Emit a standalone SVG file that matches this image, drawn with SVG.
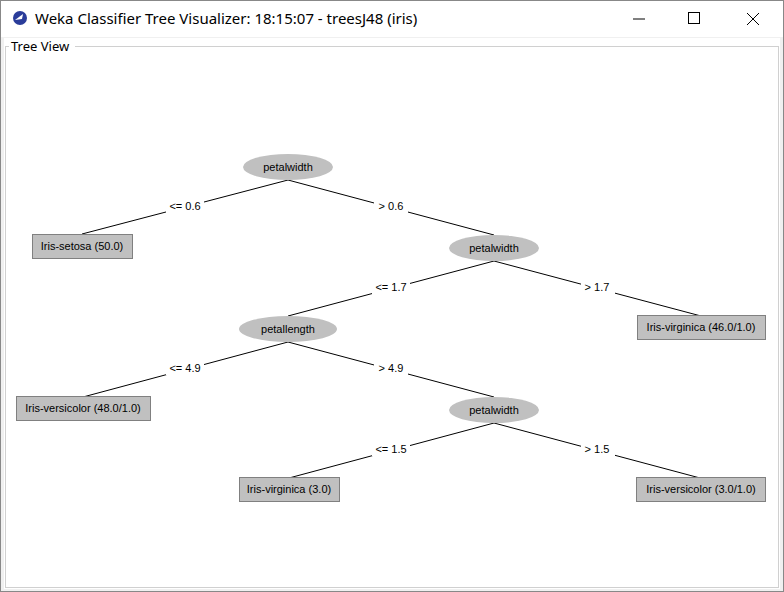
<svg xmlns="http://www.w3.org/2000/svg" width="784" height="592" viewBox="0 0 784 592">
<style>
text{font-family:"Liberation Sans",Arial,sans-serif;font-size:11px;fill:#000}
.e{fill:#c0c0c0}
.b{fill:#c0c0c0;stroke:#808080}
.l{stroke:#000;stroke-width:1;fill:none}
.lb{fill:#fff}
</style>
<rect width="784" height="592" fill="#f0f0f0"/>
<rect x="0" y="0" width="784" height="37" fill="#fff"/>
<rect x="0.5" y="0.5" width="783" height="591" fill="none" stroke="#888"/>
<circle cx="20" cy="18" r="7" fill="#2a3c9a"/>
<path d="M15 20 L23 14 L22 19 Z" fill="#fff"/>
<text x="35" y="24" style="font-family:'Noto Sans','Liberation Sans',sans-serif;font-size:15px">Weka Classifier Tree Visualizer: 18:15:07 - treesJ48 (iris)</text>
<line x1="633" y1="19" x2="645" y2="19" stroke="#000"/>
<rect x="688.5" y="12.5" width="11" height="11" fill="none" stroke="#000"/>
<path d="M747 13 L759 25 M759 13 L747 25" stroke="#000"/>
<rect x="4" y="38" width="776" height="551" fill="#fff"/>
<rect x="5.5" y="46.5" width="773" height="541" fill="none" stroke="#d0d0d0"/>
<rect x="9" y="39" width="66" height="14" fill="#fff"/>
<text x="11" y="51" style="font-size:13px;font-family:'Noto Sans','Liberation Sans',sans-serif">Tree View</text>
<g id="connectors">
<line class="l" x1="288" y1="180" x2="82" y2="234"/>
<line class="l" x1="288" y1="180" x2="494" y2="235"/>
<line class="l" x1="494" y1="261" x2="288" y2="316"/>
<line class="l" x1="494" y1="261" x2="701" y2="316"/>
<line class="l" x1="288" y1="342" x2="83" y2="397"/>
<line class="l" x1="288" y1="342" x2="494" y2="397"/>
<line class="l" x1="494" y1="423" x2="289" y2="478"/>
<line class="l" x1="494" y1="423" x2="700" y2="478"/>
<rect class="lb" x="166" y="199" width="38" height="14"/><text x="185" y="210" text-anchor="middle">&lt;= 0.6</text>
<rect class="lb" x="374" y="199" width="34" height="14"/><text x="391" y="210" text-anchor="middle">&gt; 0.6</text>
<rect class="lb" x="372" y="280" width="38" height="14"/><text x="391" y="291" text-anchor="middle">&lt;= 1.7</text>
<rect class="lb" x="581" y="280" width="34" height="14"/><text x="597" y="291" text-anchor="middle">&gt; 1.7</text>
<rect class="lb" x="166" y="361" width="38" height="14"/><text x="185" y="372" text-anchor="middle">&lt;= 4.9</text>
<rect class="lb" x="374" y="361" width="34" height="14"/><text x="391" y="372" text-anchor="middle">&gt; 4.9</text>
<rect class="lb" x="372" y="442" width="38" height="14"/><text x="391" y="453" text-anchor="middle">&lt;= 1.5</text>
<rect class="lb" x="581" y="442" width="34" height="14"/><text x="597" y="453" text-anchor="middle">&gt; 1.5</text>
</g>
<g id="n1"><ellipse class="e" cx="288" cy="167" rx="45" ry="13"/><text x="288" y="171" text-anchor="middle">petalwidth</text></g>
<g id="n2"><rect class="b" x="32.5" y="234.5" width="100" height="24"/><text x="82" y="250" text-anchor="middle">Iris-setosa (50.0)</text></g>
<g id="n3"><ellipse class="e" cx="494" cy="248" rx="45" ry="13"/><text x="494" y="252" text-anchor="middle">petalwidth</text></g>
<g id="n4"><rect class="b" x="637.5" y="315.5" width="128" height="24"/><text x="701" y="331" text-anchor="middle">Iris-virginica (46.0/1.0)</text></g>
<g id="n5"><ellipse class="e" cx="288" cy="329" rx="49" ry="13"/><text x="288" y="333" text-anchor="middle">petallength</text></g>
<g id="n6"><rect class="b" x="16.5" y="396.5" width="134" height="24"/><text x="83" y="412" text-anchor="middle">Iris-versicolor (48.0/1.0)</text></g>
<g id="n7"><ellipse class="e" cx="494" cy="410" rx="45" ry="13"/><text x="494" y="414" text-anchor="middle">petalwidth</text></g>
<g id="n8"><rect class="b" x="239.5" y="477.5" width="100" height="24"/><text x="289" y="493" text-anchor="middle">Iris-virginica (3.0)</text></g>
<g id="n9"><rect class="b" x="636.5" y="477.5" width="129" height="24"/><text x="701" y="493" text-anchor="middle">Iris-versicolor (3.0/1.0)</text></g>
</svg>
